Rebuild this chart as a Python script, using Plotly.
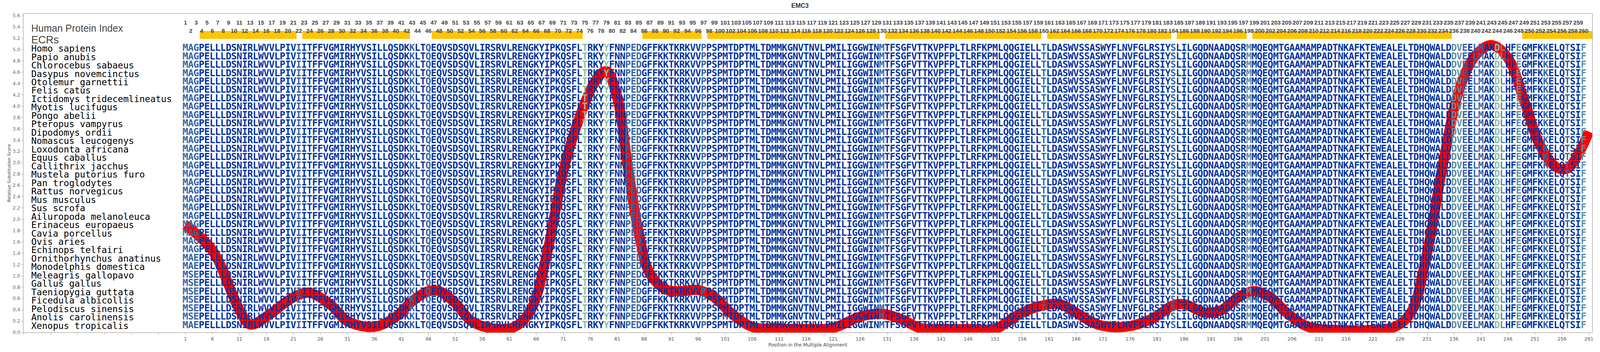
import plotly.graph_objects as go

title = "EMC3"
species = ["Homo sapiens","Papio anubis","Chlorocebus sabaeus","Dasypus novemcinctus","Otolemur garnettii",
"Felis catus","Ictidomys tridecemlineatus","Myotis lucifugus","Pongo abelii","Pteropus vampyrus",
"Dipodomys ordii","Nomascus leucogenys","Loxodonta africana","Equus caballus","Callithrix jacchus",
"Mustela putorius furo","Pan troglodytes","Rattus norvegicus","Mus musculus","Sus scrofa",
"Ailuropoda melanoleuca","Erinaceus europaeus","Cavia porcellus","Ovis aries","Echinops telfairi",
"Ornithorhynchus anatinus","Monodelphis domestica","Meleagris gallopavo","Gallus gallus",
"Taeniopygia guttata","Ficedula albicollis","Pelodiscus sinensis","Anolis carolinensis","Xenopus tropicalis"]
prefixes = ["MAG"]*25 + ["MAE","MAE","MSE","MSE","MSE","MSE","MSE","MSE","MAE"]
human_seq = ("MAGPELLLDSNIRLWVVLPIVIITFFVGMIRHYVSILLQSDKKLTQEQVSDSQVLIRSRVLRENGKYIPKQSFLTRKYYFNNPEDGFF"
             "KKTKRKVVPPSPMTDPTMLTDMMKGNVTNVLPMILIGGWINMTFSGFVTTKVPFPLTLRFKPMLQQGIELLTLDASWVSSASWYFLNVF"
             "GLRSIYSLILGQDNAADQSRMMQEQMTGAAMAMPADTNKAFKTEWEALELTDHQWALDDVEELMAKDLHFEGMFKKELQTSIF")
ecr_starts = [4, 23, 47, 86, 98, 131, 161, 185, 199, 249]
ecr_ends   = [21, 42, 74, 96, 129, 159, 183, 197, 235, 261]
steel_pos = [1, 2, 3, 22, 43, 46, 83, 84, 85, 97, 130, 160, 184, 238, 240, 241, 253, 257]
teal_pos = [198, 236, 237, 245, 248, 260]
green_pos = [75, 79, 244]
score_pos = [1,6,11,13,16,21,24,28,31,36,40,43,46,48,51,54,58,62,65,68,71,74,77,79,81,83,85,87,90,93,96,
             99,102,106,111,116,121,126,130,134,137,141,146,151,153,156,160,163,166,170,175,180,184,186,
             190,193,196,199,202,205,209,215,220,225,228,231,234,237,240,243,246,249,252,255,257,259,261]
score_val = [1.9,1.45,0.4,0.14,0.28,0.62,0.7,0.48,0.2,0.1,0.28,0.55,0.73,0.73,0.52,0.2,0.07,0.1,0.4,1.4,
             2.85,3.8,4.45,4.62,4.15,2.9,1.75,1.05,0.76,0.73,0.75,0.62,0.35,0.1,0.07,0.06,0.08,0.28,0.33,
             0.22,0.08,0.06,0.06,0.06,0.17,0.35,0.48,0.5,0.35,0.14,0.1,0.24,0.48,0.5,0.35,0.4,0.62,0.73,
             0.62,0.35,0.1,0.04,0.04,0.1,0.35,1.4,3.0,4.3,4.9,5.08,4.85,4.1,3.3,2.92,2.9,3.15,3.55]

n = len(human_seq)
positions = list(range(1, n + 1))
base_col, steel_col, teal_col, green_col = "#0033a0", "#3565a5", "#5b8fa3", "#8cc0a0"
cols = []
for p in positions:
    c = base_col
    if p in steel_pos: c = steel_col
    if p in teal_pos: c = teal_col
    if p in green_pos: c = green_col
    cols.append(c)

fig = go.Figure()
fig.add_trace(go.Scatter(x=score_pos, y=score_val, mode="lines", line=dict(color="#ff0000", width=26, shape="spline"),
                         hoverinfo="skip"))

row_top, row_step = 5.02, 0.1485
for i, (sp, pre) in enumerate(zip(species, prefixes)):
    seq = pre + human_seq[3:]
    y = row_top - i * row_step
    fig.add_trace(go.Scatter(x=positions, y=[y]*n, mode="text", text=list(seq), cliponaxis=False,
                             textfont=dict(family="DejaVu Sans Mono", size=24, color=cols, weight="bold"),
                             hoverinfo="skip"))
    fig.add_annotation(x=-27.7, y=y, text=sp, showarrow=False, xanchor="left",
                       font=dict(family="DejaVu Sans Mono", size=23, color="black"))

odd = [p for p in positions if p % 2 == 1]
even = [p for p in positions if p % 2 == 0]
fig.add_trace(go.Scatter(x=odd, y=[5.47]*len(odd), mode="text", text=[str(p) for p in odd], cliponaxis=False,
                         textfont=dict(family="Liberation Sans", size=15, color="#444", weight="bold"), hoverinfo="skip"))
fig.add_trace(go.Scatter(x=even, y=[5.32]*len(even), mode="text", text=[str(p) for p in even], cliponaxis=False,
                         textfont=dict(family="Liberation Sans", size=15, color="#444", weight="bold"), hoverinfo="skip"))
for s, e in zip(ecr_starts, ecr_ends):
    fig.add_shape(type="rect", x0=s - 0.35, x1=e + 0.6, y0=5.19, y1=5.33, fillcolor="#ffc400", line_width=0, layer="below")

fig.add_annotation(x=-27.7, y=5.38, text="Human Protein Index", showarrow=False, xanchor="left",
                   font=dict(family="Liberation Sans", size=25, color="#444"))
fig.add_annotation(x=-27.7, y=5.17, text="ECRs", showarrow=False, xanchor="left",
                   font=dict(family="Liberation Sans", size=27, color="#444"))

tickvals = list(range(-29, 262, 5))
ticktext = [str(v) if v >= 1 else "" for v in tickvals]
fig.update_layout(
    autosize=True, showlegend=False, plot_bgcolor="white", paper_bgcolor="white",
    margin=dict(l=60, r=20, t=35, b=50, autoexpand=False),
    title=dict(text="<b>EMC3</b>", x=0.5, y=0.99, yanchor="top", font=dict(family="Liberation Sans", size=16, color="#333")),
    xaxis=dict(range=[-29, 261.6], tickvals=tickvals, ticktext=ticktext, ticks="outside", ticklen=6,
               tickcolor="#aaa", showgrid=False, zeroline=False, showline=True, linecolor="#888", mirror=True,
               tickfont=dict(family="DejaVu Sans", size=12, color="#555"),
               title=dict(text="Position in the Multiple Alignment", font=dict(family="DejaVu Sans", size=12, color="#444"), standoff=4)),
    yaxis=dict(range=[0, 5.636], dtick=0.2, tickformat=".1f", ticks="outside", ticklen=5, tickcolor="#aaa",
               showgrid=False, zeroline=False, showline=True, linecolor="#888", mirror=True,
               tickfont=dict(family="DejaVu Sans", size=12, color="#666"),
               title=dict(text="Relative Substitution Score", font=dict(family="DejaVu Sans", size=11, color="#444"), standoff=2)),
)
fig.write_html("out.html", default_width="100vw", default_height="100vh", config={"displayModeBar": False})
with open("out.html", encoding="utf-8") as f:
    html = f.read()
html = html.replace("<body>", '<body style="margin:0;overflow:hidden">', 1)
with open("out.html", "w", encoding="utf-8") as f:
    f.write(html)
